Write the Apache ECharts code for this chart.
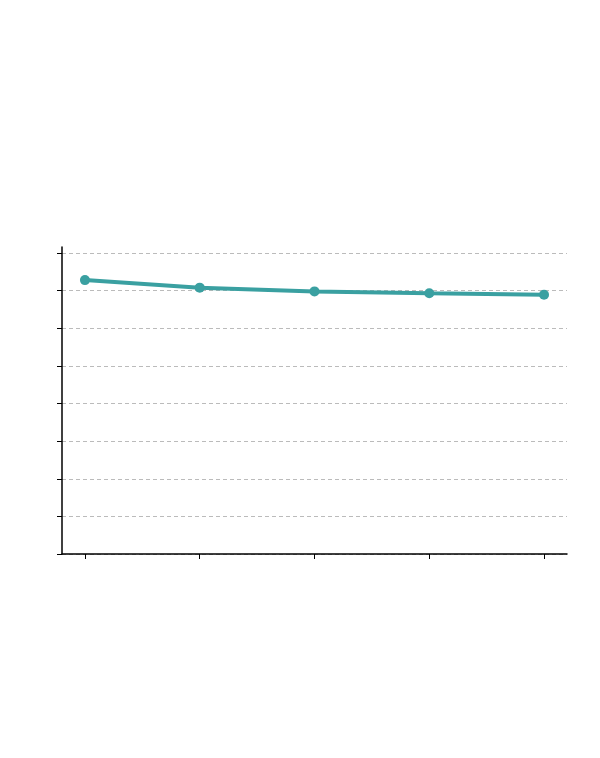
<!DOCTYPE html>
<html><head><meta charset="utf-8">
<script src="https://cdn.jsdelivr.net/npm/echarts@6/dist/echarts.min.js"></script>
<style>html,body{margin:0;padding:0;background:#fff}#c{width:600px;height:758px}</style>
</head><body><div id="c"></div>
<script>
const xPositions = [0, 1, 2, 3, 4];
const values = [7.28, 7.08, 6.98, 6.93, 6.89];
const yTicks = [0, 1, 2, 3, 4, 5, 6, 7, 8];

const chart = echarts.init(document.getElementById('c'));
chart.setOption({
  animation: false,
  grid: { left: 62, right: 33, top: 247, bottom: 204, containLabel: false },
  xAxis: {
    type: 'value', min: -0.2, max: 4.2,
    axisLine: { show: true, onZero: false, lineStyle: { color: '#000', width: 1.5 } },
    axisTick: { show: true, customValues: xPositions, length: 5, lineStyle: { color: '#000', width: 1 } },
    axisLabel: { show: false, customValues: xPositions },
    splitLine: { show: false }
  },
  yAxis: {
    type: 'value', min: 0, max: 8.16,
    axisLine: { show: true, onZero: false, lineStyle: { color: '#000', width: 1.5 } },
    axisTick: { show: true, customValues: yTicks, length: 5, lineStyle: { color: '#000', width: 1 } },
    axisLabel: { show: false, customValues: yTicks },
    splitLine: { show: true, lineStyle: { color: '#bbbbbb', type: [4, 3], width: 1 } }
  },
  series: [{
    type: 'line',
    data: xPositions.map((x, i) => [x, values[i]]),
    symbol: 'circle', symbolSize: 10,
    lineStyle: { color: '#3aa0a1', width: 4 },
    itemStyle: { color: '#3aa0a1' }
  }]
});
</script></body></html>
